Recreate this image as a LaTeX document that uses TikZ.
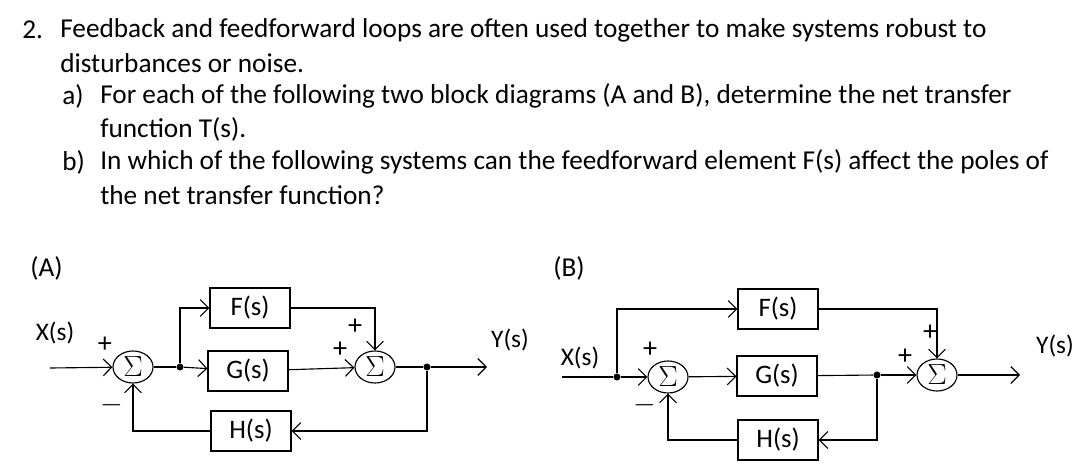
\documentclass[tikz,border=0pt]{standalone}
\usepackage{fontspec}
\setmainfont{Carlito}
\usetikzlibrary{shapes.geometric,arrows.meta}
\begin{document}
\begin{tikzpicture}[x=0.025cm,y=-0.025cm,
  txt/.style={anchor=west,inner sep=0,font=\fontsize{19.4}{22}\selectfont},
  blk/.style={draw,thick,minimum width=2cm,minimum height=1cm,inner sep=0,font=\fontsize{19}{22}\selectfont},
  sumn/.style={draw,thick,ellipse,minimum width=1cm,minimum height=0.8cm,inner sep=0,font=\fontsize{20}{24}\selectfont},
  sgn/.style={font=\fontsize{20}{24}\selectfont,inner sep=0},
  lab/.style={font=\fontsize{18}{21}\selectfont,inner sep=0},
  dot/.style={circle,fill,inner sep=0,minimum size=5pt},
  ln/.style={thick},
  ar/.style={thick,-{Straight Barb[length=6pt]}}]
\useasboundingbox (0,0) rectangle (1089,472);
\node[txt] (q) at (22,30) {2.};
\node[txt] (l1) at (60,30) {Feedback and feedforward loops are often used together to make systems robust to};
\node[txt] (l2) at (60,63) {disturbances or noise.};
\node[txt] (a) at (62,96) {a)};
\node[txt] (l3) at (100,96) {For each of the following two block diagrams (A and B), determine the net transfer};
\node[txt] (l4) at (100,129) {function T(s).};
\node[txt] (b) at (62,162) {b)};
\node[txt] (l5) at (100,162) {In which of the following systems can the feedforward element F(s) affect the poles of};
\node[txt] (l6) at (100,195) {the net transfer function?};
\node[txt] (A) at (30,268) {(A)};
\node[txt] (B) at (553,268) {(B)};
% Diagram A
\node[lab] (xa) at (55,333) {X(s)};
\coordinate (ina) at (50,368);
\node[sumn] (s1a) at (133,367) {$\Sigma$};
\node[dot] (ja) at (180,367) {};
\node[blk] (fa) at (250,308) {F(s)};
\node[blk] (ga) at (248,371) {G(s)};
\node[blk] (ha) at (251,431) {H(s)};
\node[sumn] (s2a) at (375,367) {$\Sigma$};
\node[dot] (oa) at (427,367) {};
\coordinate (outa) at (487,367);
\node[lab] (ya) at (510,340) {Y(s)};
\draw[ar] (ina) -- (s1a);
\draw[ln] (s1a) -- (ja);
\draw[ar] (ja) -- (ga);
\draw[ar] (ja) |- (fa);
\draw[ar] (fa.east) -| (s2a.north);
\draw[ar] (ga) -- (s2a);
\draw[ln] (s2a) -- (oa);
\draw[ar] (oa) -- (outa);
\draw[ar] (oa) |- (ha.east);
\draw[ar] (ha.west) -| (s1a.south);
\node[sgn] (pa1) at (105,345) {+};
\node[sgn] (ma1) at (112,405) {$-$};
\node[sgn] (pa2) at (355,327) {+};
\node[sgn] (pa3) at (340,350) {+};
% Diagram B
\node[lab] (xb) at (580,358) {X(s)};
\coordinate (inb) at (562,377);
\node[dot] (jb) at (617,377) {};
\node[sumn] (s1b) at (668,377) {$\Sigma$};
\node[blk] (gb) at (777,376) {G(s)};
\node[blk] (fb) at (778,309) {F(s)};
\node[blk] (hb) at (778,440) {H(s)};
\node[sumn] (s2b) at (937,375) {$\Sigma$};
\node[dot] (ob) at (877,375) {};
\coordinate (outb) at (1020,375);
\node[lab] (yb) at (1055,346) {Y(s)};
\draw[ln] (inb) -- (jb);
\draw[ar] (jb) -- (s1b);
\draw[ar] (jb) |- (fb);
\draw[ar] (s1b) -- (gb);
\draw[ln] (gb) -- (ob);
\draw[ar] (ob) -- (s2b);
\draw[ar] (fb.east) -| (s2b.north);
\draw[ar] (s2b) -- (outb);
\draw[ar] (ob) |- (hb.east);
\draw[ar] (hb.west) -| (s1b.south);
\node[sgn] (pb1) at (650,350) {+};
\node[sgn] (mb1) at (645,405) {$-$};
\node[sgn] (pb2) at (930,333) {+};
\node[sgn] (pb3) at (905,357) {+};
\end{tikzpicture}
\end{document}
